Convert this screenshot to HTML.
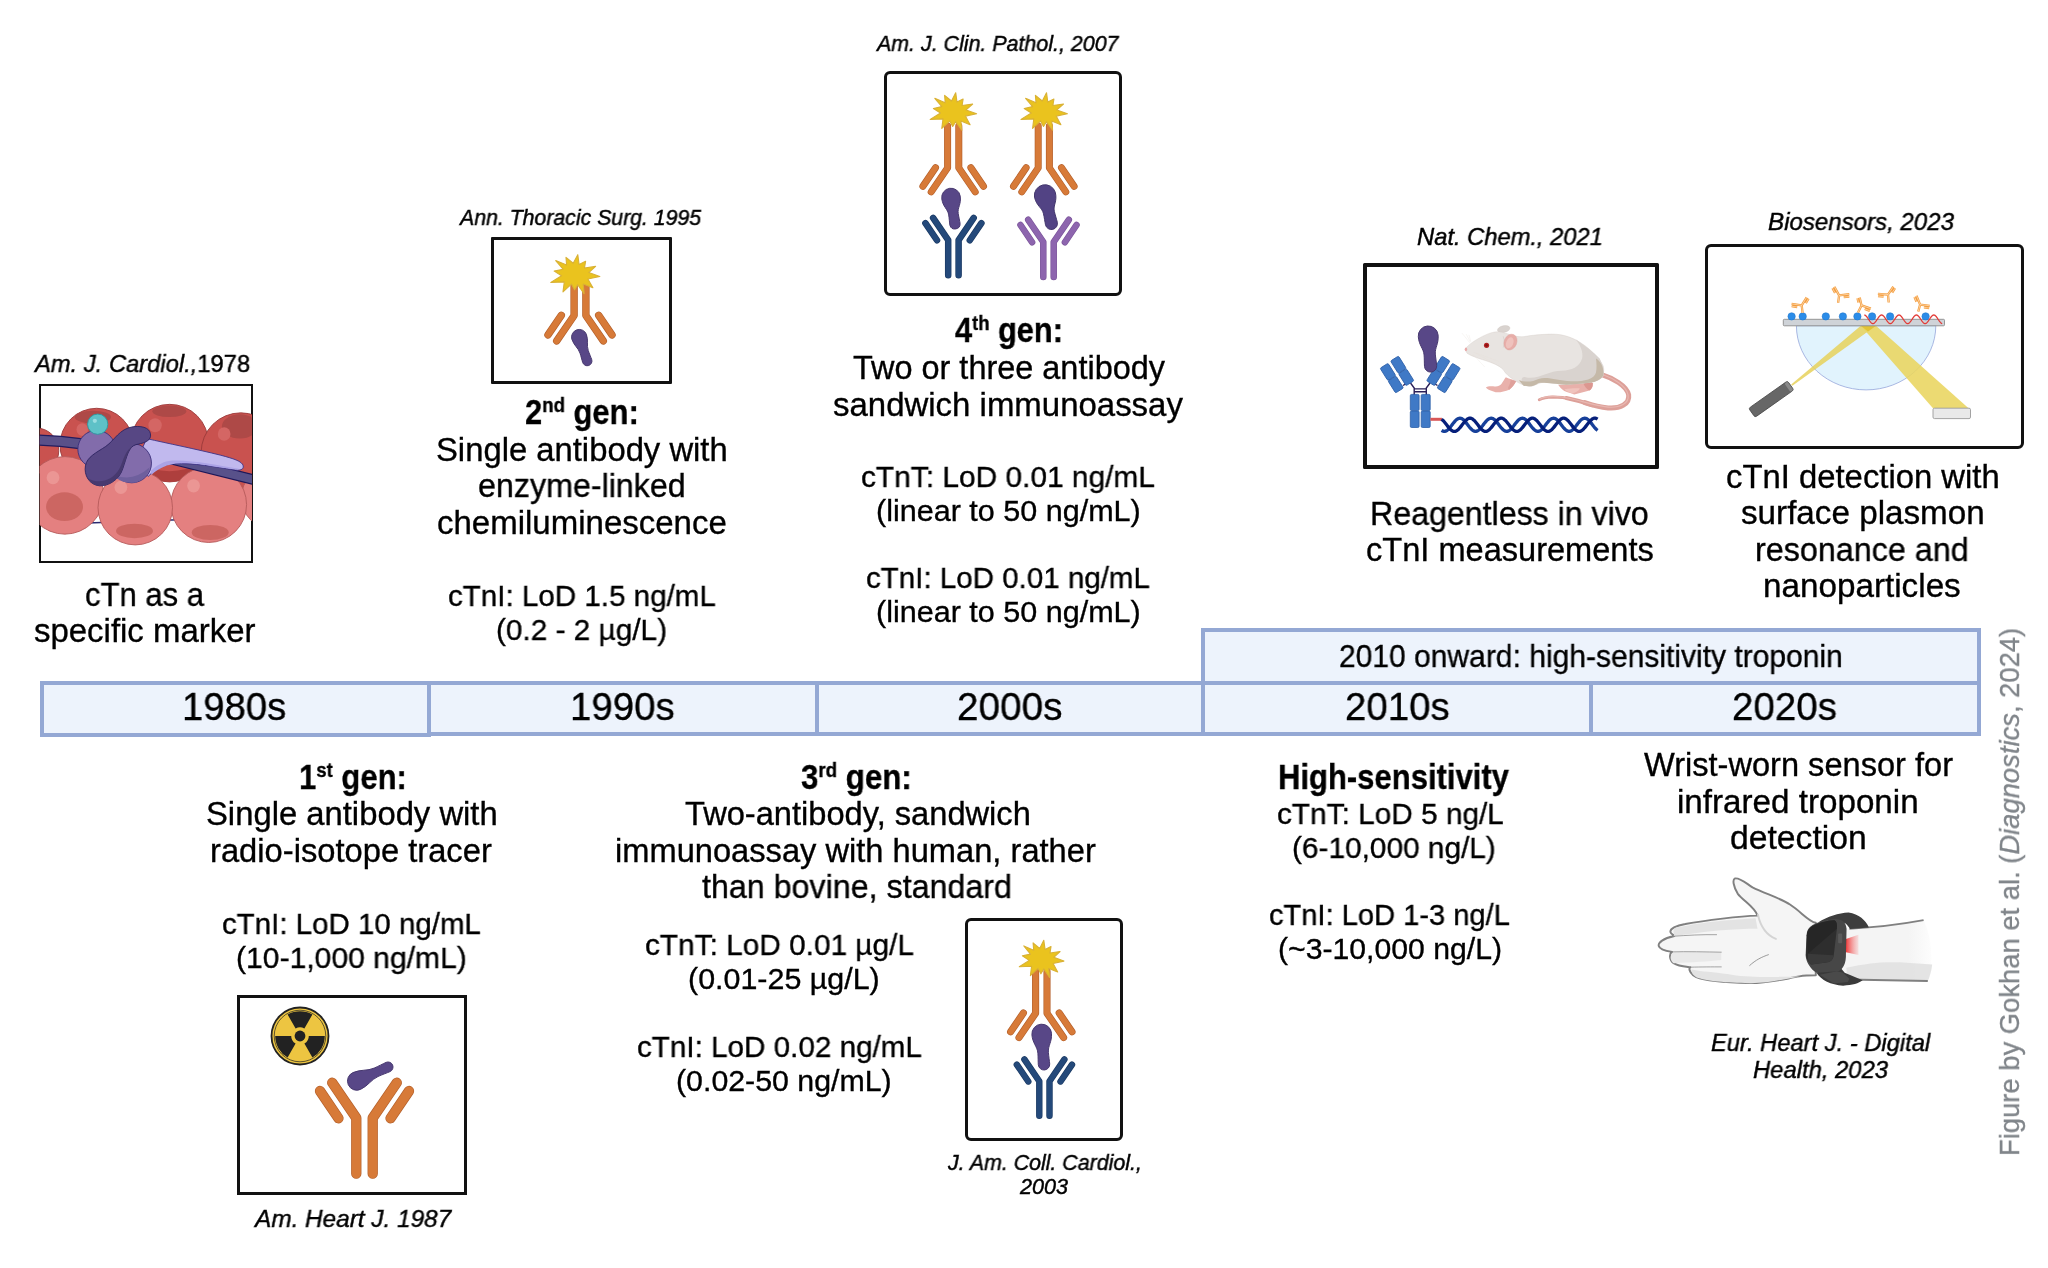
<!DOCTYPE html>
<html lang="en"><head><meta charset="utf-8">
<title>Evolution of cardiac troponin assays</title>
<style>
html,body{margin:0;padding:0;background:#fff;}
body{width:2048px;height:1268px;position:relative;overflow:hidden;
 font-family:"Liberation Sans",sans-serif;color:#000;}
.t{position:absolute;white-space:nowrap;line-height:1;transform-origin:0 50%;display:block;-webkit-text-stroke:0.35px #000;will-change:transform;}
.b{font-weight:bold;}
.i{font-style:italic;-webkit-text-stroke-width:0.45px;}
.n{font-style:normal;}
sup{font-size:60%;vertical-align:baseline;position:relative;top:-0.585em;line-height:0;}
.bx{position:absolute;box-sizing:border-box;}
#art{position:absolute;left:0;top:0;width:2048px;height:1268px;}
#rot{position:absolute;white-space:nowrap;line-height:1;transform-origin:0 0;color:#7f7f7f;will-change:transform;}
</style></head><body>
<div class="bx" style="left:39px;top:384px;width:214px;height:179px;border:2px solid #111;border-radius:0px;background:transparent"></div>
<div class="bx" style="left:491px;top:237px;width:180.5px;height:147px;border:3px solid #111;border-radius:1px;background:transparent"></div>
<div class="bx" style="left:884px;top:71px;width:238px;height:225px;border:3px solid #111;border-radius:6px;background:transparent"></div>
<div class="bx" style="left:1363.3px;top:263.2px;width:295.9px;height:205.4px;border:4px solid #111;border-radius:1.5px;background:transparent"></div>
<div class="bx" style="left:1705px;top:244px;width:319px;height:205px;border:3px solid #111;border-radius:6px;background:transparent"></div>
<div class="bx" style="left:237px;top:995px;width:230px;height:200.4px;border:3px solid #111;border-radius:0px;background:transparent"></div>
<div class="bx" style="left:965px;top:918px;width:158.3px;height:223px;border:3px solid #111;border-radius:6px;background:transparent"></div>
<div class="bx" style="left:1201px;top:628px;width:780px;height:57px;border:4px solid #94a8d4;border-radius:0px;background:#edf3fc"></div>
<div class="bx" style="left:39.5px;top:681px;width:391.5px;height:55.7px;border:4px solid #94a8d4;border-radius:0px;background:#edf3fc"></div>
<div class="bx" style="left:427px;top:681px;width:392px;height:55.3px;border:4px solid #94a8d4;border-radius:0px;background:#edf3fc"></div>
<div class="bx" style="left:815px;top:681px;width:390px;height:55.3px;border:4px solid #94a8d4;border-radius:0px;background:#edf3fc"></div>
<div class="bx" style="left:1201px;top:681px;width:392px;height:55.3px;border:4px solid #94a8d4;border-radius:0px;background:#edf3fc"></div>
<div class="bx" style="left:1589px;top:681px;width:392px;height:55.3px;border:4px solid #94a8d4;border-radius:0px;background:#edf3fc"></div>
<svg id="art" viewBox="0 0 2048 1268" width="2048" height="1268">
<circle cx="300.0" cy="1036.0" r="28.5" fill="#EDC541" stroke="#222" stroke-width="1.8"/>
<circle cx="300.0" cy="1036.0" r="25.8" fill="none" stroke="#222" stroke-width="0.7"/>
<path d="M287.6 1014.5 A24.8 24.8 0 0 1 312.4 1014.5 L304.4 1028.4 A8.8 8.8 0 0 0 295.6 1028.4 Z" fill="#222"/>
<path d="M324.8 1036.0 A24.8 24.8 0 0 1 312.4 1057.5 L304.4 1043.6 A8.8 8.8 0 0 0 308.8 1036.0 Z" fill="#222"/>
<path d="M287.6 1057.5 A24.8 24.8 0 0 1 275.2 1036.0 L291.2 1036.0 A8.8 8.8 0 0 0 295.6 1043.6 Z" fill="#222"/>
<circle cx="300.0" cy="1036.0" r="5.4" fill="#222"/>
<path d="M356.3 1173.7 L356.3 1118.0 L332.2 1082.7 M320.0 1091.0 L338.5 1118.3 M372.7 1173.7 L372.7 1118.0 L396.8 1082.7 M409.0 1091.0 L390.5 1118.3" fill="none" stroke="#B4602B" stroke-width="10.3" stroke-linecap="round" stroke-linejoin="round"/>
<path d="M356.3 1173.7 L356.3 1118.0 L332.2 1082.7 M320.0 1091.0 L338.5 1118.3 M372.7 1173.7 L372.7 1118.0 L396.8 1082.7 M409.0 1091.0 L390.5 1118.3" fill="none" stroke="#D77A38" stroke-width="9.0" stroke-linecap="round" stroke-linejoin="round"/>
<path d="M360.5 1089.4 C368.0 1086.0 371.1 1079.6 378.0 1076.5 C381.7 1074.8 387.8 1072.6 390.0 1071.6 A5.0 5.0 0 0 0 386.0 1062.4 C383.7 1063.5 378.0 1066.4 374.2 1068.1 C367.3 1071.2 360.5 1069.2 352.9 1072.6 A9.2 9.2 0 0 0 360.5 1089.4 Z" fill="#584787" stroke="#47386f" stroke-width="1"/>
<path d="M574.1 285.5 L574.1 315.5 L556.7 340.9 M548.0 334.9 L561.3 315.3 M585.9 285.5 L585.9 315.5 L603.3 340.9 M612.0 334.9 L598.7 315.3" fill="none" stroke="#B4602B" stroke-width="7.4" stroke-linecap="round" stroke-linejoin="round"/>
<path d="M574.1 285.5 L574.1 315.5 L556.7 340.9 M548.0 334.9 L561.3 315.3 M585.9 285.5 L585.9 315.5 L603.3 340.9 M612.0 334.9 L598.7 315.3" fill="none" stroke="#D77A38" stroke-width="6.1" stroke-linecap="round" stroke-linejoin="round"/>
<polygon points="577.8,254.7 579.1,264.5 585.6,261.3 584.5,268.0 595.6,266.4 588.8,272.6 599.8,276.5 587.9,279.0 592.9,287.8 583.2,284.1 584.1,293.7 577.7,284.7 574.6,289.8 571.4,284.1 563.0,291.8 564.3,281.9 550.8,282.4 561.6,275.7 554.2,271.1 563.1,269.2 555.7,260.6 566.6,265.1 566.0,257.4 573.2,263.3" fill="#EAC31E" stroke="#D9B135" stroke-width="1.1" stroke-linejoin="round"/>
<path d="M571.8 339.1 C574.0 345.7 578.2 347.8 580.0 353.1 C581.0 356.0 582.0 360.3 582.7 362.5 A4.7 4.7 0 0 0 591.7 359.5 C590.9 357.3 589.2 353.3 588.2 350.4 C586.4 345.1 588.6 340.8 586.4 334.3 A7.7 7.7 0 0 0 571.8 339.1 Z" fill="#584787" stroke="#47386f" stroke-width="1"/>
<path d="M947.6 125.9 L947.6 167.9 L931.2 191.9 M922.9 186.3 L935.5 167.7 M958.8 125.9 L958.8 167.9 L975.2 191.9 M983.5 186.3 L970.9 167.7" fill="none" stroke="#B4602B" stroke-width="7.0" stroke-linecap="round" stroke-linejoin="round"/>
<path d="M947.6 125.9 L947.6 167.9 L931.2 191.9 M922.9 186.3 L935.5 167.7 M958.8 125.9 L958.8 167.9 L975.2 191.9 M983.5 186.3 L970.9 167.7" fill="none" stroke="#D77A38" stroke-width="5.7" stroke-linecap="round" stroke-linejoin="round"/>
<polygon points="955.7,92.7 957.0,102.1 963.1,99.1 962.1,105.5 972.7,104.0 966.1,109.9 976.6,113.8 965.4,116.1 970.1,124.7 960.9,121.1 961.8,130.3 955.7,121.7 952.7,126.5 949.7,121.1 941.8,128.4 943.0,118.9 930.2,119.4 940.5,113.0 933.4,108.5 941.8,106.6 934.8,98.3 945.2,102.7 944.6,95.3 951.5,101.0" fill="#EAC31E" stroke="#D9B135" stroke-width="1.1" stroke-linejoin="round"/>
<path d="M941.8 198.9 C943.0 207.1 947.9 209.0 948.7 214.9 C949.2 218.1 949.5 222.6 949.9 225.2 A5.2 5.2 0 0 0 960.1 223.6 C959.8 221.1 958.7 216.7 958.2 213.5 C957.3 207.6 961.4 204.4 960.2 196.1 A9.3 9.3 0 0 0 941.8 198.9 Z" fill="#584787" stroke="#47386f" stroke-width="1"/>
<path d="M948.2 275.2 L948.2 240.1 L933.1 217.9 M925.4 223.1 L937.0 240.3 M958.6 275.2 L958.6 240.1 L973.7 217.9 M981.4 223.1 L969.8 240.3" fill="none" stroke="#1b3a63" stroke-width="6.5" stroke-linecap="round" stroke-linejoin="round"/>
<path d="M948.2 275.2 L948.2 240.1 L933.1 217.9 M925.4 223.1 L937.0 240.3 M958.6 275.2 L958.6 240.1 L973.7 217.9 M981.4 223.1 L969.8 240.3" fill="none" stroke="#24497A" stroke-width="5.2" stroke-linecap="round" stroke-linejoin="round"/>
<path d="M1038.2 125.9 L1038.2 167.9 L1021.8 191.9 M1013.5 186.3 L1026.1 167.7 M1049.4 125.9 L1049.4 167.9 L1065.8 191.9 M1074.1 186.3 L1061.5 167.7" fill="none" stroke="#B4602B" stroke-width="7.0" stroke-linecap="round" stroke-linejoin="round"/>
<path d="M1038.2 125.9 L1038.2 167.9 L1021.8 191.9 M1013.5 186.3 L1026.1 167.7 M1049.4 125.9 L1049.4 167.9 L1065.8 191.9 M1074.1 186.3 L1061.5 167.7" fill="none" stroke="#D77A38" stroke-width="5.7" stroke-linecap="round" stroke-linejoin="round"/>
<polygon points="1046.5,92.7 1047.8,102.1 1053.9,99.1 1052.9,105.5 1063.5,104.0 1056.9,109.9 1067.4,113.8 1056.2,116.1 1060.9,124.7 1051.7,121.1 1052.6,130.3 1046.5,121.7 1043.5,126.5 1040.5,121.1 1032.6,128.4 1033.8,118.9 1021.0,119.4 1031.3,113.0 1024.2,108.5 1032.6,106.6 1025.6,98.3 1036.0,102.7 1035.4,95.3 1042.3,101.0" fill="#EAC31E" stroke="#D9B135" stroke-width="1.1" stroke-linejoin="round"/>
<path d="M1034.5 197.1 C1036.6 206.4 1042.1 207.4 1043.5 213.8 C1044.3 217.2 1044.9 221.9 1045.5 224.8 A6.0 6.0 0 0 0 1057.3 222.2 C1056.6 219.3 1055.1 214.8 1054.3 211.3 C1052.9 205.0 1057.5 201.7 1055.3 192.3 A10.7 10.7 0 0 0 1034.5 197.1 Z" fill="#524384" stroke="#41356b" stroke-width="1"/>
<path d="M1043.3 277.1 L1043.3 242.0 L1028.2 219.8 M1020.5 225.0 L1032.1 242.2 M1053.7 277.1 L1053.7 242.0 L1068.8 219.8 M1076.5 225.0 L1064.9 242.2" fill="none" stroke="#7a5499" stroke-width="6.5" stroke-linecap="round" stroke-linejoin="round"/>
<path d="M1043.3 277.1 L1043.3 242.0 L1028.2 219.8 M1020.5 225.0 L1032.1 242.2 M1053.7 277.1 L1053.7 242.0 L1068.8 219.8 M1076.5 225.0 L1064.9 242.2" fill="none" stroke="#8D65AE" stroke-width="5.2" stroke-linecap="round" stroke-linejoin="round"/>
<path d="M1035.6 971.2 L1035.6 1013.2 L1019.0 1037.6 M1010.6 1031.8 L1023.4 1013.0 M1047.0 971.2 L1047.0 1013.2 L1063.6 1037.6 M1072.0 1031.8 L1059.2 1013.0" fill="none" stroke="#B4602B" stroke-width="7.1" stroke-linecap="round" stroke-linejoin="round"/>
<path d="M1035.6 971.2 L1035.6 1013.2 L1019.0 1037.6 M1010.6 1031.8 L1023.4 1013.0 M1047.0 971.2 L1047.0 1013.2 L1063.6 1037.6 M1072.0 1031.8 L1059.2 1013.0" fill="none" stroke="#D77A38" stroke-width="5.8" stroke-linecap="round" stroke-linejoin="round"/>
<polygon points="1043.8,940.3 1045.1,949.6 1051.0,946.6 1050.0,953.0 1060.1,951.5 1053.8,957.3 1063.9,961.1 1053.1,963.5 1057.7,971.9 1048.8,968.4 1049.6,977.5 1043.8,968.9 1040.9,973.8 1038.1,968.4 1030.4,975.6 1031.6,966.3 1019.3,966.7 1029.2,960.4 1022.4,955.9 1030.5,954.1 1023.8,945.9 1033.7,950.2 1033.1,942.9 1039.7,948.5" fill="#EAC31E" stroke="#D9B135" stroke-width="1.1" stroke-linejoin="round"/>
<path d="M1031.9 1034.7 C1032.6 1043.5 1037.4 1046.5 1037.9 1053.2 C1038.2 1056.8 1038.1 1061.9 1038.3 1064.7 A5.7 5.7 0 0 0 1049.7 1063.9 C1049.5 1061.0 1048.6 1056.0 1048.4 1052.4 C1047.8 1045.7 1052.1 1042.1 1051.5 1033.3 A9.8 9.8 0 0 0 1031.9 1034.7 Z" fill="#584787" stroke="#47386f" stroke-width="1"/>
<path d="M1039.3 1115.8 L1039.3 1081.3 L1024.4 1059.4 M1016.8 1064.6 L1028.3 1081.5 M1049.5 1115.8 L1049.5 1081.3 L1064.4 1059.4 M1072.0 1064.6 L1060.5 1081.5" fill="none" stroke="#1b3a63" stroke-width="6.4" stroke-linecap="round" stroke-linejoin="round"/>
<path d="M1039.3 1115.8 L1039.3 1081.3 L1024.4 1059.4 M1016.8 1064.6 L1028.3 1081.5 M1049.5 1115.8 L1049.5 1081.3 L1064.4 1059.4 M1072.0 1064.6 L1060.5 1081.5" fill="none" stroke="#24497A" stroke-width="5.1" stroke-linecap="round" stroke-linejoin="round"/>
<defs><clipPath id="cm"><rect x="64" y="44" width="1402" height="1176"/></clipPath></defs>
<g transform="translate(30 378) scale(0.15145)" clip-path="url(#cm)">
<path d="M380 958 L980 936" stroke="#2a2a70" stroke-width="10" fill="none"/>
<circle cx="40" cy="480" r="150" fill="#C9524F" stroke="#9B3A3A" stroke-width="6"/>
<circle cx="440" cy="442" r="242" fill="#C9524F" stroke="#9B3A3A" stroke-width="6"/>
<ellipse cx="415" cy="258" rx="120" ry="42" fill="#AE4947"/>
<ellipse cx="345" cy="340" rx="38" ry="42" fill="#D46664"/>
<circle cx="922" cy="430" r="256" fill="#C9524F" stroke="#9B3A3A" stroke-width="6"/>
<ellipse cx="920" cy="220" rx="112" ry="38" fill="#AE4947"/>
<ellipse cx="826" cy="312" rx="44" ry="46" fill="#D46664"/>
<path d="M702 560 Q920 670 1142 560 A256 256 0 0 1 702 560 Z" fill="#AE3F3D"/>
<circle cx="1392" cy="492" r="262" fill="#C9524F" stroke="#9B3A3A" stroke-width="6"/>
<ellipse cx="1385" cy="320" rx="118" ry="80" fill="#AE4947"/>
<ellipse cx="1282" cy="370" rx="42" ry="44" fill="#D46664"/>
<path d="M60 410 Q200 415 345 435" stroke="#221b5e" stroke-width="74" fill="none"/>
<path d="M60 410 Q200 415 345 435" stroke="#5A5089" stroke-width="58" fill="none"/>
<circle cx="1600" cy="790" r="205" fill="#E48080" stroke="#B65A5A" stroke-width="6"/>
<circle cx="230" cy="775" r="256" fill="#E48080" stroke="#B65A5A" stroke-width="6"/>
<ellipse cx="228" cy="850" rx="122" ry="95" fill="#CC6662"/>
<ellipse cx="152" cy="658" rx="42" ry="44" fill="#EB9694"/>
<circle cx="1180" cy="836" r="250" fill="#E48080" stroke="#B65A5A" stroke-width="6"/>
<ellipse cx="1190" cy="1020" rx="122" ry="50" fill="#CC6662"/>
<ellipse cx="1080" cy="712" rx="42" ry="44" fill="#EB9694"/>
<circle cx="695" cy="856" r="246" fill="#E48080" stroke="#B65A5A" stroke-width="6"/>
<ellipse cx="690" cy="1010" rx="122" ry="48" fill="#CC6662"/>
<ellipse cx="600" cy="722" rx="42" ry="44" fill="#EB9694"/>
<path d="M860 518 L1480 672" stroke="#1d1759" stroke-width="70" fill="none"/>
<path d="M860 518 L1480 672" stroke="#58518A" stroke-width="54" fill="none"/>
<path d="M770 400 C900 430 1100 470 1260 510 C1340 532 1400 548 1408 580 C1412 606 1385 614 1340 606 C1230 588 1080 560 950 566 C880 570 830 600 780 650 L700 560 Z" fill="#C1B9EE" stroke="#3f3488" stroke-width="6"/>
<path d="M800 610 C860 560 900 545 960 545 C1100 545 1250 580 1380 600 C1340 606 1230 588 1080 562 C950 556 880 570 800 640 Z" fill="#ABA3E6"/>
<circle cx="440" cy="470" r="124" fill="#826CAB" stroke="#3c2f7a" stroke-width="6"/>
<circle cx="672" cy="562" r="130" fill="#826CAB" stroke="#3c2f7a" stroke-width="6"/>
<path d="M560 640 Q680 690 790 590 Q780 660 700 690 Q620 700 570 660 Z" fill="#6E5F9D"/>
<path d="M500 452 C560 410 590 335 680 322 C760 312 800 340 796 384 C792 420 740 432 700 440 C650 452 640 520 612 600 C590 670 520 715 460 712 C390 706 355 640 366 580 C376 520 440 492 500 452 Z" fill="#574784" stroke="#2c2360" stroke-width="6"/>
<path d="M612 600 C590 670 520 715 460 712 C420 708 395 690 380 660 C440 700 540 690 590 600 C620 540 625 470 690 445 C650 460 640 520 612 600 Z" fill="#47396f"/>
<circle cx="447" cy="305" r="67" fill="#5EC1C7" stroke="#2B9AA2" stroke-width="6"/>
<circle cx="428" cy="283" r="14" fill="#9ADDE0"/>
</g>
<g transform="translate(1455 315) scale(0.09276)">
<path d="M1575 640 C1700 680 1850 760 1872 860 C1886 960 1780 1012 1650 1002 C1560 994 1480 972 1400 945" fill="none" stroke="#DDA099" stroke-width="54" stroke-linecap="round"/>
<path d="M1480 972 C1400 945 1300 915 1200 895" fill="none" stroke="#DDA099" stroke-width="44" stroke-linecap="round"/>
<path d="M1260 908 C1200 893 1120 884 1050 884 C990 886 940 898 908 914" fill="none" stroke="#DDA099" stroke-width="30" stroke-linecap="round"/>
<path d="M1590 642 C1700 680 1845 760 1866 860 C1880 955 1780 1003 1650 993 C1480 978 1320 906 1150 884 C1050 872 960 884 915 908" fill="none" stroke="#E8B7B1" stroke-width="13" stroke-linecap="round"/>
<ellipse cx="525" cy="152" rx="68" ry="36" transform="rotate(-12 525 152)" fill="#D9D3CF" stroke="#C9C1BB" stroke-width="4"/>
<path d="M1112 752 C1200 748 1330 742 1400 722 C1430 712 1470 712 1484 735 C1490 770 1470 800 1448 815 C1400 832 1340 842 1285 856 C1260 850 1230 838 1178 820 C1150 800 1125 775 1112 752 Z" fill="#E8B0AA"/>
<path d="M1380 730 C1420 712 1470 712 1484 735 C1490 770 1470 800 1448 815 C1420 800 1395 770 1380 730 Z" fill="#DC9790"/>
<path d="M1180 800 C1240 790 1300 786 1345 790 C1340 815 1300 835 1270 845 C1235 835 1200 822 1180 800 Z" fill="#F0C3BD"/>
<path d="M548 672 C590 690 630 700 660 712 C640 750 620 780 585 805 C540 822 480 838 438 832 C400 822 350 805 333 782 C345 768 380 765 410 768 C450 775 480 770 500 745 C520 715 535 690 548 672 Z" fill="#E9B1AB"/>
<path d="M600 700 C625 705 645 708 660 712 C640 750 620 780 585 805 C575 800 570 790 575 775 C590 750 598 725 600 700 Z" fill="#DFA19B"/>
<path d="M110 372 C130 330 200 280 300 228 C360 198 420 178 470 180 C520 184 560 200 600 214 C640 228 700 240 750 232 C830 218 920 208 1050 206 C1180 206 1290 250 1400 330 C1480 392 1560 470 1598 550 C1612 600 1600 660 1545 700 C1500 722 1400 736 1300 745 C1200 750 1080 740 960 722 C900 730 850 772 800 770 C740 760 690 740 640 702 C590 670 550 640 520 590 C480 545 400 515 330 492 C250 468 170 440 130 412 Z" fill="#E8E4E1" stroke="#D3CBC5" stroke-width="4"/>
<path d="M1300 262 C1400 330 1480 392 1560 470 C1598 550 1612 600 1600 660 C1580 690 1545 700 1500 722 C1400 736 1300 745 1200 750 C1080 740 960 722 900 730 C850 772 800 770 740 760 C700 700 720 660 760 670 C900 700 1000 600 1150 600 C1260 600 1340 560 1370 470 C1385 400 1350 320 1300 262 Z" fill="#D9D3CF"/>
<path d="M1520 470 C1575 500 1610 580 1598 650 C1580 690 1545 702 1500 722 C1400 738 1300 747 1200 752 C1080 742 960 724 900 732 C850 774 800 772 740 762 C720 740 700 720 690 700 C760 730 840 720 900 690 C1000 660 1100 710 1250 715 C1380 718 1500 700 1520 620 C1530 560 1525 510 1520 470 Z" fill="#C5B9A8"/>
<path d="M520 230 C540 280 530 330 520 350" fill="none" stroke="#D6CFCA" stroke-width="8"/>
<ellipse cx="598" cy="292" rx="68" ry="88" transform="rotate(22 598 292)" fill="#E7ADA8" stroke="#DDA09A" stroke-width="4"/>
<ellipse cx="590" cy="300" rx="38" ry="62" transform="rotate(22 590 300)" fill="#EFC2BD"/>
<circle cx="340" cy="327" r="28" fill="#B22222"/><circle cx="340" cy="327" r="14" fill="#8a1414"/>
<ellipse cx="118" cy="370" rx="13" ry="20" fill="#E9AAAA"/>
<path d="M160 300 L75 195 M165 290 L120 205 M170 285 L150 215 M200 400 L420 520 M190 420 L320 560 M230 410 L470 500" fill="none" stroke="#E4DDD7" stroke-width="3"/>
</g>
<path d="M1414.2 395 L1414.2 388 L1410.5 383 M1426.3 395 L1426.3 388 L1430 383 M1414.2 388.9 L1426.3 388.9 M1414.2 391.7 L1426.3 391.7 M1403 385.5 L1406.5 383.4 M1437.5 385.5 L1434 383.4" fill="none" stroke="#2A1F58" stroke-width="1.4"/>
<rect x="1410.3" y="394.4" width="8.8" height="16.2" rx="1.3" fill="#3F79C6" stroke="#2C5FA8" stroke-width="0.8"/>
<rect x="1410.3" y="411.0" width="8.8" height="16.5" rx="1.3" fill="#3F79C6" stroke="#2C5FA8" stroke-width="0.8"/>
<rect x="1421.2" y="394.4" width="9.0" height="16.2" rx="1.3" fill="#3F79C6" stroke="#2C5FA8" stroke-width="0.8"/>
<rect x="1421.2" y="411.0" width="9.0" height="16.5" rx="1.3" fill="#3F79C6" stroke="#2C5FA8" stroke-width="0.8"/>
<g transform="translate(1410.2 383.6) rotate(-32.0)">
<rect x="-4.7" y="-14.6" width="9.4" height="14.2" rx="1.3" fill="#3F79C6" stroke="#2C5FA8" stroke-width="0.8"/>
<rect x="-4.7" y="-29.6" width="9.4" height="14.6" rx="1.3" fill="#3F79C6" stroke="#2C5FA8" stroke-width="0.8"/>
<rect x="-17.4" y="-14.0" width="9.4" height="14.2" rx="1.3" fill="#3F79C6" stroke="#2C5FA8" stroke-width="0.8"/>
<rect x="-17.4" y="-29.0" width="9.4" height="14.6" rx="1.3" fill="#3F79C6" stroke="#2C5FA8" stroke-width="0.8"/>
</g>
<g transform="translate(1430.3 383.6) rotate(32.0)">
<rect x="-4.7" y="-14.6" width="9.4" height="14.2" rx="1.3" fill="#3F79C6" stroke="#2C5FA8" stroke-width="0.8"/>
<rect x="-4.7" y="-29.6" width="9.4" height="14.6" rx="1.3" fill="#3F79C6" stroke="#2C5FA8" stroke-width="0.8"/>
<rect x="8.0" y="-14.0" width="9.4" height="14.2" rx="1.3" fill="#3F79C6" stroke="#2C5FA8" stroke-width="0.8"/>
<rect x="8.0" y="-29.0" width="9.4" height="14.6" rx="1.3" fill="#3F79C6" stroke="#2C5FA8" stroke-width="0.8"/>
</g>
<path d="M1418.3 336.7 C1419.0 345.6 1423.6 348.4 1424.1 355.0 C1424.4 358.6 1424.3 363.4 1424.5 366.5 A6.1 6.1 0 0 0 1436.7 365.5 C1436.4 362.5 1435.6 357.7 1435.3 354.1 C1434.8 347.5 1438.8 344.0 1438.1 335.1 A9.9 9.9 0 0 0 1418.3 336.7 Z" fill="#584787" stroke="#47386f" stroke-width="1"/>
<path d="M1430.4 419.3 L1442 419.3" stroke="#D95757" stroke-width="3" fill="none"/>
<path d="M1441.6 430.4 L1442.4 430.9 L1443.2 431.2 L1444.0 431.4 L1444.8 431.4 L1445.6 431.2 L1446.4 430.8 L1447.2 430.3 L1448.0 429.7 L1448.8 428.9 L1449.6 428.0 L1450.4 427.0 L1451.2 426.0 L1452.0 424.9 L1452.8 423.9 L1453.6 422.8 L1454.4 421.9 L1455.2 420.9 L1456.0 420.1 L1456.8 419.4 L1457.6 418.9 L1458.4 418.5 L1459.2 418.3 L1460.0 418.2 L1460.8 418.3 L1461.6 418.6 L1462.4 419.0 L1463.2 419.6 L1464.0 420.3 L1464.8 421.2 L1465.6 422.1 L1466.4 423.1 L1467.2 424.1 L1468.0 425.2 L1468.8 426.3 L1469.6 427.3 L1470.4 428.2 L1471.2 429.1 L1472.0 429.8 L1472.8 430.4 L1473.6 430.9 L1474.4 431.2 L1475.2 431.4 L1476.0 431.4 L1476.8 431.2 L1477.6 430.8 L1478.4 430.3 L1479.2 429.7 L1480.0 428.9 L1480.8 428.0 L1481.6 427.0 L1482.4 426.0 L1483.2 424.9 L1484.0 423.9 L1484.8 422.8 L1485.6 421.9 L1486.4 420.9 L1487.2 420.1 L1488.0 419.4 L1488.8 418.9 L1489.6 418.5 L1490.4 418.3 L1491.2 418.2 L1492.0 418.3 L1492.8 418.6 L1493.6 419.0 L1494.4 419.6 L1495.2 420.3 L1496.0 421.2 L1496.8 422.1 L1497.6 423.1 L1498.4 424.1 L1499.2 425.2 L1500.0 426.3 L1500.8 427.3 L1501.6 428.2 L1502.4 429.1 L1503.2 429.8 L1504.0 430.4 L1504.8 430.9 L1505.6 431.2 L1506.4 431.4 L1507.2 431.4 L1508.0 431.2 L1508.8 430.8 L1509.6 430.3 L1510.4 429.7 L1511.2 428.9 L1512.0 428.0 L1512.8 427.0 L1513.6 426.0 L1514.4 424.9 L1515.2 423.9 L1516.0 422.8 L1516.8 421.9 L1517.6 420.9 L1518.4 420.1 L1519.2 419.4 L1520.0 418.9 L1520.8 418.5 L1521.6 418.3 L1522.4 418.2 L1523.2 418.3 L1524.0 418.6 L1524.8 419.0 L1525.6 419.6 L1526.4 420.3 L1527.2 421.2 L1528.0 422.1 L1528.8 423.1 L1529.6 424.1 L1530.4 425.2 L1531.2 426.3 L1532.0 427.3 L1532.8 428.2 L1533.6 429.1 L1534.4 429.8 L1535.2 430.4 L1536.0 430.9 L1536.8 431.2 L1537.6 431.4 L1538.4 431.4 L1539.2 431.2 L1540.0 430.8 L1540.8 430.3 L1541.6 429.7 L1542.4 428.9 L1543.2 428.0 L1544.0 427.0 L1544.8 426.0 L1545.6 424.9 L1546.4 423.9 L1547.2 422.8 L1548.0 421.9 L1548.8 420.9 L1549.6 420.1 L1550.4 419.4 L1551.2 418.9 L1552.0 418.5 L1552.8 418.3 L1553.6 418.2 L1554.4 418.3 L1555.2 418.6 L1556.0 419.0 L1556.8 419.6 L1557.6 420.3 L1558.4 421.2 L1559.2 422.1 L1560.0 423.1 L1560.8 424.1 L1561.6 425.2 L1562.4 426.3 L1563.2 427.3 L1564.0 428.2 L1564.8 429.1 L1565.6 429.8 L1566.4 430.4 L1567.2 430.9 L1568.0 431.2 L1568.8 431.4 L1569.6 431.4 L1570.4 431.2 L1571.2 430.8 L1572.0 430.3 L1572.8 429.7 L1573.6 428.9 L1574.4 428.0 L1575.2 427.0 L1576.0 426.0 L1576.8 424.9 L1577.6 423.9 L1578.4 422.8 L1579.2 421.9 L1580.0 420.9 L1580.8 420.1 L1581.6 419.4 L1582.4 418.9 L1583.2 418.5 L1584.0 418.3 L1584.8 418.2 L1585.6 418.3 L1586.4 418.6 L1587.2 419.0 L1588.0 419.6 L1588.8 420.3 L1589.6 421.2 L1590.4 422.1 L1591.2 423.1 L1592.0 424.1 L1592.8 425.2 L1593.6 426.3 L1594.4 427.3 L1595.2 428.2 L1596.0 429.1 L1596.8 429.8 L1597.6 430.4" fill="none" stroke="#17409A" stroke-width="3.3" stroke-linejoin="round"/>
<path d="M1441.6 419.2 L1442.4 419.9 L1443.2 420.6 L1444.0 421.5 L1444.8 422.5 L1445.6 423.5 L1446.4 424.5 L1447.2 425.6 L1448.0 426.6 L1448.8 427.6 L1449.6 428.5 L1450.4 429.4 L1451.2 430.1 L1452.0 430.6 L1452.8 431.1 L1453.6 431.3 L1454.4 431.4 L1455.2 431.3 L1456.0 431.1 L1456.8 430.6 L1457.6 430.1 L1458.4 429.4 L1459.2 428.5 L1460.0 427.6 L1460.8 426.6 L1461.6 425.6 L1462.4 424.5 L1463.2 423.5 L1464.0 422.5 L1464.8 421.5 L1465.6 420.6 L1466.4 419.9 L1467.2 419.2 L1468.0 418.7 L1468.8 418.4 L1469.6 418.2 L1470.4 418.2 L1471.2 418.4 L1472.0 418.7 L1472.8 419.2 L1473.6 419.9 L1474.4 420.6 L1475.2 421.5 L1476.0 422.5 L1476.8 423.5 L1477.6 424.5 L1478.4 425.6 L1479.2 426.6 L1480.0 427.6 L1480.8 428.5 L1481.6 429.4 L1482.4 430.1 L1483.2 430.6 L1484.0 431.1 L1484.8 431.3 L1485.6 431.4 L1486.4 431.3 L1487.2 431.1 L1488.0 430.6 L1488.8 430.1 L1489.6 429.4 L1490.4 428.5 L1491.2 427.6 L1492.0 426.6 L1492.8 425.6 L1493.6 424.5 L1494.4 423.5 L1495.2 422.5 L1496.0 421.5 L1496.8 420.6 L1497.6 419.9 L1498.4 419.2 L1499.2 418.7 L1500.0 418.4 L1500.8 418.2 L1501.6 418.2 L1502.4 418.4 L1503.2 418.7 L1504.0 419.2 L1504.8 419.9 L1505.6 420.6 L1506.4 421.5 L1507.2 422.5 L1508.0 423.5 L1508.8 424.5 L1509.6 425.6 L1510.4 426.6 L1511.2 427.6 L1512.0 428.5 L1512.8 429.4 L1513.6 430.1 L1514.4 430.6 L1515.2 431.1 L1516.0 431.3 L1516.8 431.4 L1517.6 431.3 L1518.4 431.1 L1519.2 430.6 L1520.0 430.1 L1520.8 429.4 L1521.6 428.5 L1522.4 427.6 L1523.2 426.6 L1524.0 425.6 L1524.8 424.5 L1525.6 423.5 L1526.4 422.5 L1527.2 421.5 L1528.0 420.6 L1528.8 419.9 L1529.6 419.2 L1530.4 418.7 L1531.2 418.4 L1532.0 418.2 L1532.8 418.2 L1533.6 418.4 L1534.4 418.7 L1535.2 419.2 L1536.0 419.9 L1536.8 420.6 L1537.6 421.5 L1538.4 422.5 L1539.2 423.5 L1540.0 424.5 L1540.8 425.6 L1541.6 426.6 L1542.4 427.6 L1543.2 428.5 L1544.0 429.4 L1544.8 430.1 L1545.6 430.6 L1546.4 431.1 L1547.2 431.3 L1548.0 431.4 L1548.8 431.3 L1549.6 431.1 L1550.4 430.6 L1551.2 430.1 L1552.0 429.4 L1552.8 428.5 L1553.6 427.6 L1554.4 426.6 L1555.2 425.6 L1556.0 424.5 L1556.8 423.5 L1557.6 422.5 L1558.4 421.5 L1559.2 420.6 L1560.0 419.9 L1560.8 419.2 L1561.6 418.7 L1562.4 418.4 L1563.2 418.2 L1564.0 418.2 L1564.8 418.4 L1565.6 418.7 L1566.4 419.2 L1567.2 419.9 L1568.0 420.6 L1568.8 421.5 L1569.6 422.5 L1570.4 423.5 L1571.2 424.5 L1572.0 425.6 L1572.8 426.6 L1573.6 427.6 L1574.4 428.5 L1575.2 429.4 L1576.0 430.1 L1576.8 430.6 L1577.6 431.1 L1578.4 431.3 L1579.2 431.4 L1580.0 431.3 L1580.8 431.1 L1581.6 430.6 L1582.4 430.1 L1583.2 429.4 L1584.0 428.5 L1584.8 427.6 L1585.6 426.6 L1586.4 425.6 L1587.2 424.5 L1588.0 423.5 L1588.8 422.5 L1589.6 421.5 L1590.4 420.6 L1591.2 419.9 L1592.0 419.2 L1592.8 418.7 L1593.6 418.4 L1594.4 418.2 L1595.2 418.2 L1596.0 418.4 L1596.8 418.7 L1597.6 419.2" fill="none" stroke="#061F7A" stroke-width="3.3" stroke-linejoin="round"/>
<path d="M1796.4 325.7 A69.7 64.2 0 0 0 1935.8 325.7 Z" fill="#E1F3FD" stroke="#96A6DA" stroke-width="0.8"/>
<path d="M1791.2 384.5 L1860.8 325.7 L1876 325.7 L1792.4 385.8 Z" fill="#E6D15A" fill-opacity="0.85"/>
<path d="M1860.8 325.7 L1876 325.7 L1968.6 408.2 L1933 408.2 Z" fill="#E9D55F" fill-opacity="0.88"/>
<path d="M1860.8 325.7 L1876 325.7 L1868 331.5 Z" fill="#E2C335"/>
<g transform="rotate(-35.2 1771.3 399.1)"><rect x="1747.5" y="393.6" width="47.5" height="11" rx="2" fill="#676767" stroke="#4a4a4a" stroke-width="0.8"/><rect x="1791" y="393.9" width="3.6" height="10.4" rx="1.5" fill="#8a8a8a"/></g>
<rect x="1933" y="408.2" width="37.5" height="10.4" rx="1.5" fill="#E9E9E9" stroke="#9a9a9a" stroke-width="0.9"/>
<rect x="1783.3" y="319.3" width="161.2" height="6.5" rx="1" fill="#CFD3D8" stroke="#8b8b8b" stroke-width="0.9"/>
<circle cx="1791.6" cy="316.4" r="3.7" fill="#2B8CE8" stroke="#1f74c8" stroke-width="0.5"/>
<circle cx="1802.7" cy="316.4" r="3.7" fill="#2B8CE8" stroke="#1f74c8" stroke-width="0.5"/>
<circle cx="1825.8" cy="316.4" r="3.7" fill="#2B8CE8" stroke="#1f74c8" stroke-width="0.5"/>
<circle cx="1842.9" cy="316.4" r="3.7" fill="#2B8CE8" stroke="#1f74c8" stroke-width="0.5"/>
<circle cx="1857.4" cy="316.4" r="3.7" fill="#2B8CE8" stroke="#1f74c8" stroke-width="0.5"/>
<circle cx="1872.1" cy="316.4" r="3.7" fill="#2B8CE8" stroke="#1f74c8" stroke-width="0.5"/>
<circle cx="1890.1" cy="316.4" r="3.7" fill="#2B8CE8" stroke="#1f74c8" stroke-width="0.5"/>
<circle cx="1925.6" cy="316.4" r="3.7" fill="#2B8CE8" stroke="#1f74c8" stroke-width="0.5"/>
<path d="M1864.2 315.0 L1864.8 315.1 L1865.4 315.4 L1866.0 315.9 L1866.6 316.5 L1867.2 317.3 L1867.8 318.1 L1868.4 319.1 L1869.0 320.0 L1869.6 320.9 L1870.2 321.7 L1870.8 322.4 L1871.4 323.0 L1872.0 323.4 L1872.6 323.6 L1873.2 323.6 L1873.8 323.4 L1874.4 323.0 L1875.0 322.4 L1875.6 321.7 L1876.2 320.9 L1876.8 320.0 L1877.4 319.1 L1878.0 318.1 L1878.6 317.3 L1879.2 316.5 L1879.8 315.9 L1880.4 315.4 L1881.0 315.1 L1881.6 315.0 L1882.2 315.1 L1882.8 315.4 L1883.4 315.9 L1884.0 316.5 L1884.6 317.3 L1885.2 318.1 L1885.8 319.1 L1886.4 320.0 L1887.0 320.9 L1887.6 321.7 L1888.2 322.4 L1888.8 323.0 L1889.4 323.4 L1890.0 323.6 L1890.6 323.6 L1891.2 323.4 L1891.8 323.0 L1892.4 322.4 L1893.0 321.7 L1893.6 320.9 L1894.2 320.0 L1894.8 319.1 L1895.4 318.1 L1896.0 317.3 L1896.6 316.5 L1897.2 315.9 L1897.8 315.4 L1898.4 315.1 L1899.0 315.0 L1899.6 315.1 L1900.2 315.4 L1900.8 315.9 L1901.4 316.5 L1902.0 317.3 L1902.6 318.1 L1903.2 319.1 L1903.8 320.0 L1904.4 320.9 L1905.0 321.7 L1905.6 322.4 L1906.2 323.0 L1906.8 323.4 L1907.4 323.6 L1908.0 323.6 L1908.6 323.4 L1909.2 323.0 L1909.8 322.4 L1910.4 321.7 L1911.0 320.9 L1911.6 320.0 L1912.2 319.1 L1912.8 318.1 L1913.4 317.3 L1914.0 316.5 L1914.6 315.9 L1915.2 315.4 L1915.8 315.1 L1916.4 315.0 L1917.0 315.1 L1917.6 315.4 L1918.2 315.9 L1918.8 316.5 L1919.4 317.3 L1920.0 318.1 L1920.6 319.1 L1921.2 320.0 L1921.8 320.9 L1922.4 321.7 L1923.0 322.4 L1923.6 323.0 L1924.2 323.4 L1924.8 323.6 L1925.4 323.6 L1926.0 323.4 L1926.6 323.0 L1927.2 322.4 L1927.8 321.7 L1928.4 320.9 L1929.0 320.0 L1929.6 319.1 L1930.2 318.1 L1930.8 317.3 L1931.4 316.5 L1932.0 315.9 L1932.6 315.4 L1933.2 315.1 L1933.8 315.0 L1934.4 315.1 L1935.0 315.4 L1935.6 315.9 L1936.2 316.5 L1936.8 317.3 L1937.4 318.1 L1938.0 319.1 L1938.6 320.0 L1939.2 320.9 L1939.8 321.7 L1940.4 322.4 L1941.0 323.0 L1941.6 323.4 L1942.2 323.6" fill="none" stroke="#E23A36" stroke-width="1.25"/>
<path d="M1801.7 305.4 L1802.6 312.9 M1801.7 305.4 L1806.7 297.3 M1805.8 303.2 L1808.5 298.7 M1801.7 305.4 L1791.6 303.9 M1797.2 307.0 L1791.6 306.2" fill="none" stroke="#F49C3C" stroke-width="2.3" stroke-linecap="butt" stroke-linejoin="round"/>
<path d="M1801.7 305.4 L1802.6 312.9 M1801.7 305.4 L1806.7 297.3 M1805.8 303.2 L1808.5 298.7 M1801.7 305.4 L1791.6 303.9 M1797.2 307.0 L1791.6 306.2" fill="none" stroke="#FFF1DF" stroke-width="0.6"/>
<path d="M1839.1 295.4 L1838.1 302.9 M1839.1 295.4 L1834.4 286.7 M1835.1 292.9 L1832.5 288.1 M1839.1 295.4 L1849.3 294.2 M1843.7 297.2 L1849.3 296.5" fill="none" stroke="#F49C3C" stroke-width="2.3" stroke-linecap="butt" stroke-linejoin="round"/>
<path d="M1839.1 295.4 L1838.1 302.9 M1839.1 295.4 L1834.4 286.7 M1835.1 292.9 L1832.5 288.1 M1839.1 295.4 L1849.3 294.2 M1843.7 297.2 L1849.3 296.5" fill="none" stroke="#FFF1DF" stroke-width="0.6"/>
<path d="M1861.5 305.4 L1858.0 312.4 M1861.5 305.4 L1859.7 297.5 M1858.5 302.6 L1857.5 298.3 M1861.5 305.4 L1870.9 308.7 M1864.7 308.9 L1869.8 310.8" fill="none" stroke="#F49C3C" stroke-width="2.3" stroke-linecap="butt" stroke-linejoin="round"/>
<path d="M1861.5 305.4 L1858.0 312.4 M1861.5 305.4 L1859.7 297.5 M1858.5 302.6 L1857.5 298.3 M1861.5 305.4 L1870.9 308.7 M1864.7 308.9 L1869.8 310.8" fill="none" stroke="#FFF1DF" stroke-width="0.6"/>
<path d="M1888.0 294.6 L1888.7 302.5 M1888.0 294.6 L1893.3 286.7 M1892.2 292.6 L1895.0 288.2 M1888.0 294.6 L1877.9 293.8 M1883.6 296.5 L1878.0 296.1" fill="none" stroke="#F49C3C" stroke-width="2.3" stroke-linecap="butt" stroke-linejoin="round"/>
<path d="M1888.0 294.6 L1888.7 302.5 M1888.0 294.6 L1893.3 286.7 M1892.2 292.6 L1895.0 288.2 M1888.0 294.6 L1877.9 293.8 M1883.6 296.5 L1878.0 296.1" fill="none" stroke="#FFF1DF" stroke-width="0.6"/>
<path d="M1920.1 304.6 L1918.2 311.6 M1920.1 304.6 L1916.5 295.8 M1916.5 301.8 L1914.5 297.0 M1920.1 304.6 L1929.8 305.8 M1923.9 307.4 L1929.2 308.0" fill="none" stroke="#F49C3C" stroke-width="2.3" stroke-linecap="butt" stroke-linejoin="round"/>
<path d="M1920.1 304.6 L1918.2 311.6 M1920.1 304.6 L1916.5 295.8 M1916.5 301.8 L1914.5 297.0 M1920.1 304.6 L1929.8 305.8 M1923.9 307.4 L1929.2 308.0" fill="none" stroke="#FFF1DF" stroke-width="0.6"/>
<defs><linearGradient id="arm" x1="0" x2="1" y1="0" y2="0"><stop offset="0" stop-color="#F4F4F4"/><stop offset="0.8" stop-color="#F4F4F4"/><stop offset="1" stop-color="#F4F4F4" stop-opacity="0.2"/></linearGradient><linearGradient id="ir" x1="0" x2="1" y1="0" y2="0"><stop offset="0" stop-color="#F03A3A"/><stop offset="1" stop-color="#F59A9A" stop-opacity="0.25"/></linearGradient></defs>
<g transform="translate(1640 860) scale(0.15625)">
<path d="M1120 400 L1340 440 C1500 432 1680 410 1815 385 C1870 500 1880 660 1842 775 L1330 765 L1120 738 Z" fill="url(#arm)"/>
<path d="M1320 690 C1450 660 1560 650 1660 655 L1870 668 C1865 710 1855 745 1842 775 L1330 765 Z" fill="#E1E1E1" opacity="0.9"/>
<path d="M1340 440 C1500 432 1680 410 1815 385 M1842 775 L1330 765" fill="none" stroke="#808080" stroke-width="12.5"/>
<path d="M1125 402 C1080 395 1030 330 960 285 C900 245 800 215 720 175 C680 150 640 112 608 118 C590 125 598 170 625 215 C660 262 735 300 752 356 C640 360 420 385 290 410 C230 420 190 440 195 462 C198 478 230 484 215 488 C150 500 115 530 120 550 C125 572 170 582 205 588 C185 600 188 640 215 660 C245 680 290 682 322 686 C305 700 330 735 360 750 C420 775 560 785 700 788 C820 790 930 760 1020 745 C1060 738 1100 738 1125 738 Z" fill="#F5F5F5" stroke="#808080" stroke-width="12.5" stroke-linejoin="round"/>
<path d="M300 420 C380 400 600 380 740 372 L752 440 C600 440 420 455 215 488 C225 470 200 450 230 432 Z" fill="#E3E3E3"/>
<path d="M215 590 C320 585 440 590 520 592 L520 640 C440 650 330 655 215 660 C190 640 190 605 215 590 Z" fill="#E9E9E9"/>
<path d="M360 750 C420 775 560 785 700 788 C820 790 930 760 1020 745 C900 745 700 760 560 730 C470 715 400 715 330 700 C325 720 340 740 360 750 Z" fill="#E3E3E3"/>
<path d="M215 488 C300 482 400 476 490 478 M205 588 C300 585 420 588 520 590 M322 686 C400 684 460 684 520 684" fill="none" stroke="#808080" stroke-width="6" stroke-linecap="round" opacity="0.75"/>
<path d="M755 350 C770 420 810 480 870 505" fill="none" stroke="#D4D4D4" stroke-width="12" stroke-linecap="round"/>
<path d="M702 675 C740 640 780 620 822 606" fill="none" stroke="#808080" stroke-width="5" stroke-linecap="round"/>
<path d="M1318 505 L1398 478 L1398 608 L1318 590 Z" fill="url(#ir)"/>
<path d="M1140 400 C1200 360 1270 340 1335 336 C1400 345 1445 385 1465 432 L1345 442 C1330 420 1320 405 1300 400 Z" fill="#3D3D3D"/>
<path d="M1130 722 C1160 770 1220 800 1300 804 C1360 802 1400 790 1425 770 L1310 722 L1250 650 Z" fill="#3A3A3A"/>
<path d="M1150 735 L1260 712 L1300 722 L1340 760 L1330 780 L1240 790 Z" fill="#4A4A4A"/>
<path d="M1088 428 C1130 395 1200 380 1250 378 C1290 380 1318 395 1322 440 L1318 600 C1320 660 1300 700 1270 712 L1130 722 C1090 700 1062 650 1060 610 L1066 480 C1068 455 1075 440 1088 428 Z" fill="#474747"/>
<path d="M1092 432 C1130 402 1200 388 1244 386 C1258 392 1262 410 1260 440 L1240 610 C1235 640 1220 650 1200 655 L1095 668 C1075 650 1064 630 1062 608 L1068 482 C1070 458 1078 444 1092 432 Z" fill="#2E2E2E"/>
<path d="M1092 432 C1130 402 1200 388 1244 386 C1258 392 1262 410 1260 440 L1075 600 L1068 482 C1070 458 1078 444 1092 432 Z" fill="#262626"/>
<path d="M1095 668 L1200 655 C1220 650 1235 640 1240 610 L1075 600 C1070 640 1080 655 1095 668 Z" fill="#3A3A3A"/>
<rect x="1268" y="470" width="26" height="62" rx="6" fill="#5a5a5a"/>
</g>
</svg>
<div class="t i" id="t0" style="left:35.00px;top:351.60px;font-size:24.4px;transform:scaleX(0.9734);">Am. J. Cardiol.,<span class="n">1978</span></div>
<div class="t" id="t1" style="left:85.00px;top:579.00px;font-size:32.4px;transform:scaleX(0.9580);">cTn as a</div>
<div class="t" id="t2" style="left:34.39px;top:615.00px;font-size:32.4px;transform:scaleX(1.0169);">specific marker</div>
<div class="t i" id="t3" style="left:459.99px;top:207.00px;font-size:21.6px;transform:scaleX(0.9850);">Ann. Thoracic Surg. 1995</div>
<div class="t b" id="t4" style="left:524.98px;top:395.00px;font-size:34.6px;transform:scaleX(0.8944);">2<sup>nd</sup> gen:</div>
<div class="t" id="t5" style="left:435.99px;top:434.00px;font-size:32.4px;transform:scaleX(1.0125);">Single antibody with</div>
<div class="t" id="t6" style="left:477.99px;top:470.30px;font-size:32.4px;transform:scaleX(0.9947);">enzyme-linked</div>
<div class="t" id="t7" style="left:436.99px;top:507.00px;font-size:32.4px;transform:scaleX(1.0188);">chemiluminescence</div>
<div class="t" id="t8" style="left:447.99px;top:580.60px;font-size:30.2px;transform:scaleX(0.9793);">cTnI: LoD 1.5 ng/mL</div>
<div class="t" id="t9" style="left:495.79px;top:614.50px;font-size:30.2px;transform:scaleX(0.9859);">(0.2 - 2 µg/L)</div>
<div class="t i" id="t10" style="left:876.99px;top:33.00px;font-size:21.9px;transform:scaleX(0.9775);">Am. J. Clin. Pathol., 2007</div>
<div class="t b" id="t11" style="left:955.00px;top:313.00px;font-size:34.6px;transform:scaleX(0.8880);">4<sup>th</sup> gen:</div>
<div class="t" id="t12" style="left:853.00px;top:352.00px;font-size:32.4px;transform:scaleX(1.0016);">Two or three antibody</div>
<div class="t" id="t13" style="left:833.00px;top:389.00px;font-size:32.4px;transform:scaleX(1.0176);">sandwich immunoassay</div>
<div class="t" id="t14" style="left:861.00px;top:462.30px;font-size:30.2px;transform:scaleX(0.9896);">cTnT: LoD 0.01 ng/mL</div>
<div class="t" id="t15" style="left:875.99px;top:496.30px;font-size:30.2px;transform:scaleX(1.0113);">(linear to 50 ng/mL)</div>
<div class="t" id="t16" style="left:866.00px;top:563.30px;font-size:30.2px;transform:scaleX(0.9780);">cTnI: LoD 0.01 ng/mL</div>
<div class="t" id="t17" style="left:875.99px;top:597.30px;font-size:30.2px;transform:scaleX(1.0113);">(linear to 50 ng/mL)</div>
<div class="t i" id="t18" style="left:1417.00px;top:225.00px;font-size:23.8px;transform:scaleX(0.9967);">Nat. Chem., 2021</div>
<div class="t" id="t19" style="left:1369.98px;top:498.00px;font-size:32.4px;transform:scaleX(0.9924);">Reagentless in vivo</div>
<div class="t" id="t20" style="left:1365.99px;top:534.00px;font-size:32.4px;transform:scaleX(1.0056);">cTnI measurements</div>
<div class="t i" id="t21" style="left:1768.00px;top:210.00px;font-size:24.2px;transform:scaleX(0.9952);">Biosensors, 2023</div>
<div class="t" id="t22" style="left:1725.99px;top:460.70px;font-size:32.4px;transform:scaleX(1.0137);">cTnI detection with</div>
<div class="t" id="t23" style="left:1740.99px;top:497.20px;font-size:32.4px;transform:scaleX(1.0255);">surface plasmon</div>
<div class="t" id="t24" style="left:1754.97px;top:533.70px;font-size:32.4px;transform:scaleX(0.9973);">resonance and</div>
<div class="t" id="t25" style="left:1762.97px;top:570.20px;font-size:32.4px;transform:scaleX(1.0263);">nanoparticles</div>
<div class="t" id="t26" style="left:1339.00px;top:640.60px;font-size:31.5px;transform:scaleX(0.9527);">2010 onward: high-sensitivity troponin</div>
<div class="t" id="t27" style="left:182.34px;top:687.00px;font-size:39.1px;transform:scaleX(0.9784);">1980s</div>
<div class="t" id="t28" style="left:570.16px;top:687.00px;font-size:39.1px;transform:scaleX(0.9825);">1990s</div>
<div class="t" id="t29" style="left:957.18px;top:687.00px;font-size:39.1px;transform:scaleX(0.9899);">2000s</div>
<div class="t" id="t30" style="left:1345.18px;top:687.00px;font-size:39.1px;transform:scaleX(0.9825);">2010s</div>
<div class="t" id="t31" style="left:1732.19px;top:687.00px;font-size:39.1px;transform:scaleX(0.9849);">2020s</div>
<div class="t b" id="t32" style="left:298.97px;top:759.60px;font-size:34.6px;transform:scaleX(0.8959);">1<sup>st</sup> gen:</div>
<div class="t" id="t33" style="left:205.99px;top:798.00px;font-size:32.4px;transform:scaleX(1.0125);">Single antibody with</div>
<div class="t" id="t34" style="left:209.99px;top:835.00px;font-size:32.4px;transform:scaleX(1.0099);">radio-isotope tracer</div>
<div class="t" id="t35" style="left:222.00px;top:908.50px;font-size:30.2px;transform:scaleX(0.9765);">cTnI: LoD 10 ng/mL</div>
<div class="t" id="t36" style="left:235.99px;top:942.50px;font-size:30.2px;transform:scaleX(0.9967);">(10-1,000 ng/mL)</div>
<div class="t i" id="t37" style="left:254.99px;top:1207.00px;font-size:24.6px;transform:scaleX(0.9900);">Am. Heart J. 1987</div>
<div class="t b" id="t38" style="left:800.99px;top:759.60px;font-size:34.6px;transform:scaleX(0.9035);">3<sup>rd</sup> gen:</div>
<div class="t" id="t39" style="left:685.00px;top:798.00px;font-size:32.4px;transform:scaleX(1.0074);">Two-antibody, sandwich</div>
<div class="t" id="t40" style="left:614.99px;top:835.00px;font-size:32.4px;transform:scaleX(1.0078);">immunoassay with human, rather</div>
<div class="t" id="t41" style="left:702.00px;top:871.00px;font-size:32.4px;transform:scaleX(0.9947);">than bovine, standard</div>
<div class="t" id="t42" style="left:645.00px;top:930.30px;font-size:30.2px;transform:scaleX(0.9870);">cTnT: LoD 0.01 µg/L</div>
<div class="t" id="t43" style="left:687.99px;top:964.00px;font-size:30.2px;transform:scaleX(1.0079);">(0.01-25 µg/L)</div>
<div class="t" id="t44" style="left:637.00px;top:1032.00px;font-size:30.2px;transform:scaleX(0.9814);">cTnI: LoD 0.02 ng/mL</div>
<div class="t" id="t45" style="left:675.99px;top:1065.60px;font-size:30.2px;transform:scaleX(1.0044);">(0.02-50 ng/mL)</div>
<div class="t i" id="t46" style="left:948.00px;top:1152.00px;font-size:21.6px;transform:scaleX(0.9889);">J. Am. Coll. Cardiol.,</div>
<div class="t i" id="t47" style="left:1020.00px;top:1176.00px;font-size:21.6px;transform:scaleX(0.9990);">2003</div>
<div class="t b" id="t48" style="left:1278.00px;top:760.00px;font-size:34.6px;transform:scaleX(0.8968);">High-sensitivity</div>
<div class="t" id="t49" style="left:1276.99px;top:799.00px;font-size:30.2px;transform:scaleX(0.9866);">cTnT: LoD 5 ng/L</div>
<div class="t" id="t50" style="left:1291.99px;top:833.00px;font-size:30.2px;transform:scaleX(0.9874);">(6-10,000 ng/L)</div>
<div class="t" id="t51" style="left:1269.00px;top:900.00px;font-size:30.2px;transform:scaleX(0.9635);">cTnI: LoD 1-3 ng/L</div>
<div class="t" id="t52" style="left:1277.99px;top:934.00px;font-size:30.2px;transform:scaleX(0.9989);">(~3-10,000 ng/L)</div>
<div class="t" id="t53" style="left:1644.00px;top:749.00px;font-size:32.4px;transform:scaleX(1.0059);">Wrist-worn sensor for</div>
<div class="t" id="t54" style="left:1676.97px;top:785.50px;font-size:32.4px;transform:scaleX(1.0245);">infrared troponin</div>
<div class="t" id="t55" style="left:1729.98px;top:822.00px;font-size:32.4px;transform:scaleX(1.0401);">detection</div>
<div class="t i" id="t56" style="left:1711.00px;top:1030.60px;font-size:24.4px;transform:scaleX(0.9721);">Eur. Heart J. - Digital</div>
<div class="t i" id="t57" style="left:1753.00px;top:1058.00px;font-size:24.4px;transform:scaleX(0.9763);">Health, 2023</div>
<div id="rot" style="left:1994.70px;top:1156.00px;font-size:28.2px;-webkit-text-stroke:0.3px #80858a;color:#80858a;transform:rotate(-90deg) scaleX(0.9715);">Figure by Gokhan et al. (<i>Diagnostics</i>, 2024)</div>
</body></html>
